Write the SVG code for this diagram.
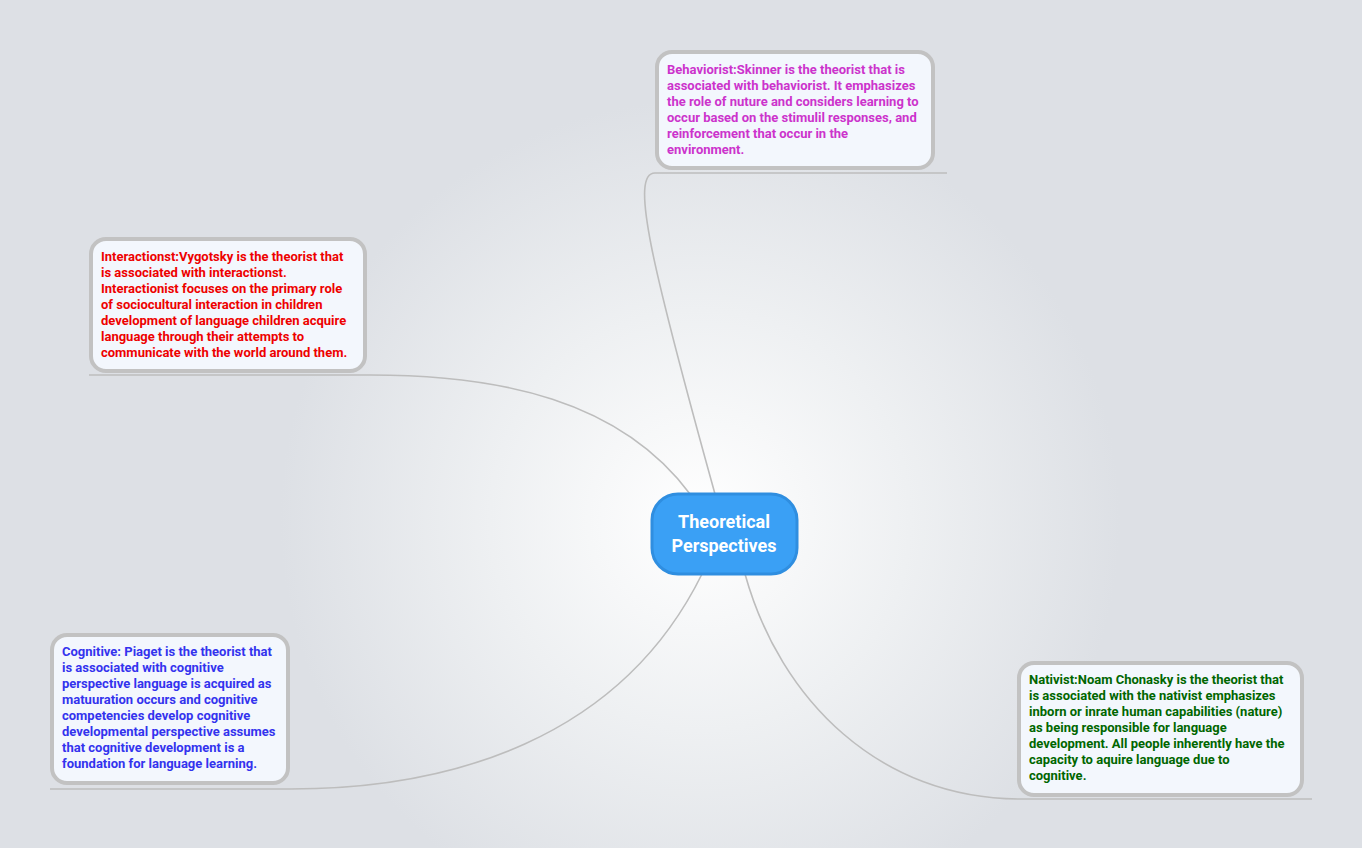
<svg xmlns="http://www.w3.org/2000/svg" width="1362" height="848" viewBox="0 0 1362 848">
<defs>
<radialGradient id="bg" cx="700" cy="520" r="420" gradientUnits="userSpaceOnUse">
<stop offset="0" stop-color="#ffffff"/><stop offset="0.5" stop-color="#eef0f2"/><stop offset="1" stop-color="#dde0e5"/>
</radialGradient>
<style>
.box{fill:#f3f7fd;stroke:#c2c2c2;stroke-width:4}
.t{font-family:Roboto,"Liberation Sans",sans-serif;font-weight:bold;font-size:13px}
.c{fill:none;stroke:#bdbdbd;stroke-width:1.6}
</style>
</defs>
<rect width="1362" height="848" fill="url(#bg)"/>
<g id="connectors">
<path class="c" d="M947 173 H655 C630 173 650 260 715 494"/>
<path class="c" d="M89 375 H370 C500 375 620 400 690 494"/>
<path class="c" d="M50 789 H290 C450 789 620 740 702 574"/>
<path class="c" d="M1312 799 H1020 C880 799 780 700 745 574"/>
</g>
<g id="center">
<rect x="652" y="494" width="145" height="80" rx="26" fill="#3aa0f5" stroke="#2f8ee0" stroke-width="3"/>
<text x="724" y="528" text-anchor="middle" font-family="Roboto,'Liberation Sans',sans-serif" font-weight="bold" font-size="18" fill="#fff">Theoretical</text>
<text x="724" y="552" text-anchor="middle" font-family="Roboto,'Liberation Sans',sans-serif" font-weight="bold" font-size="18" fill="#fff">Perspectives</text>
</g>
<g id="behaviorist">
<rect class="box" x="657" y="52" width="276" height="116" rx="15"/>
<text class="t" fill="#cc33cc"><tspan x="667" y="74">Behaviorist:Skinner is the theorist that is</tspan><tspan x="667" y="90">associated with behaviorist. It emphasizes</tspan><tspan x="667" y="106">the role of nuture and considers learning to</tspan><tspan x="667" y="122">occur based on the stimulil responses, and</tspan><tspan x="667" y="138">reinforcement that occur in the</tspan><tspan x="667" y="154">environment.</tspan></text>
</g>
<g id="interactionist">
<rect class="box" x="91" y="239" width="274" height="132" rx="15"/>
<text class="t" fill="#ee0000"><tspan x="101" y="261">Interactionst:Vygotsky is the theorist that</tspan><tspan x="101" y="277">is associated with interactionst.</tspan><tspan x="101" y="293">Interactionist focuses on the primary role</tspan><tspan x="101" y="309">of sociocultural interaction in children</tspan><tspan x="101" y="325">development of language children acquire</tspan><tspan x="101" y="341">language through their attempts to</tspan><tspan x="101" y="357">communicate with the world around them.</tspan></text>
</g>
<g id="cognitive">
<rect class="box" x="52" y="635" width="236" height="148" rx="15"/>
<text class="t" fill="#3333ee"><tspan x="62" y="656">Cognitive: Piaget is the theorist that</tspan><tspan x="62" y="672">is associated with cognitive</tspan><tspan x="62" y="688">perspective language is acquired as</tspan><tspan x="62" y="704">matuuration occurs and cognitive</tspan><tspan x="62" y="720">competencies develop cognitive</tspan><tspan x="62" y="736">developmental perspective assumes</tspan><tspan x="62" y="752">that cognitive development is a</tspan><tspan x="62" y="768">foundation for language learning.</tspan></text>
</g>
<g id="nativist">
<rect class="box" x="1019" y="663" width="283" height="132" rx="15"/>
<text class="t" fill="#006600"><tspan x="1029" y="684">Nativist:Noam Chonasky is the theorist that</tspan><tspan x="1029" y="700">is associated with the nativist emphasizes</tspan><tspan x="1029" y="716">inborn or inrate human capabilities (nature)</tspan><tspan x="1029" y="732">as being responsible for language</tspan><tspan x="1029" y="748">development. All people inherently have the</tspan><tspan x="1029" y="764">capacity to aquire language due to</tspan><tspan x="1029" y="780">cognitive.</tspan></text>
</g>
</svg>
